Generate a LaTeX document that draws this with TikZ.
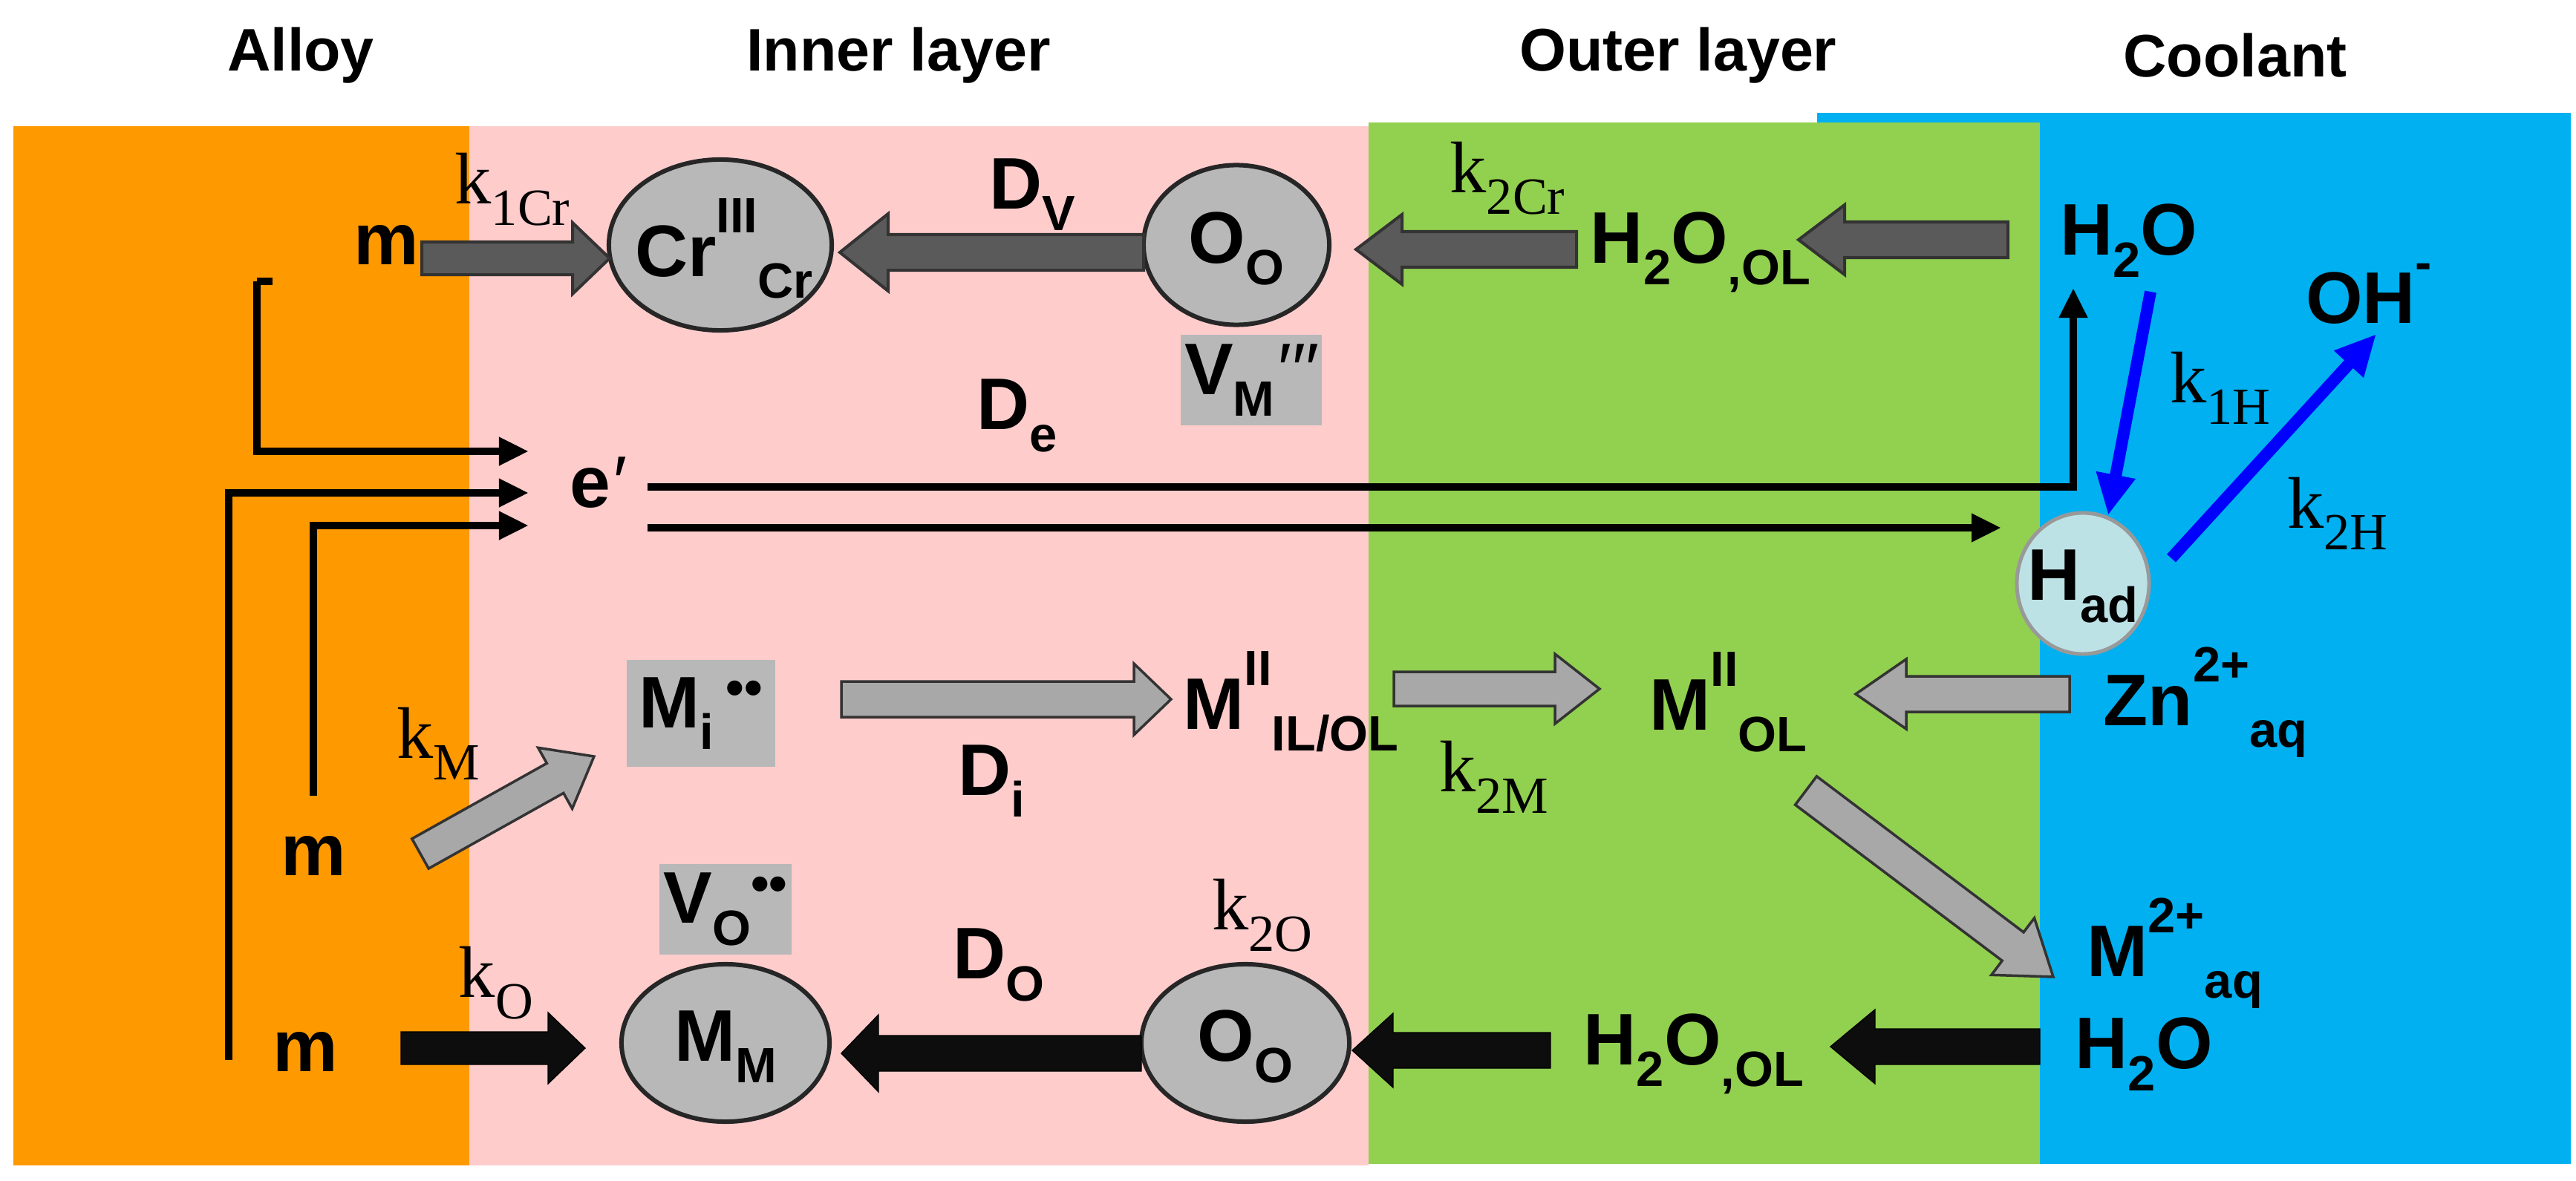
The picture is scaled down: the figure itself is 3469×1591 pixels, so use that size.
\documentclass[tikz,border=0pt]{standalone}
\usepackage{fontspec}
\setmainfont{Liberation Sans}
\newfontfamily\serif{Liberation Serif}
\usetikzlibrary{arrows.meta,shapes.geometric}
\definecolor{orng}{HTML}{FF9900}
\definecolor{pnk}{HTML}{FFCCCC}
\definecolor{grn}{HTML}{92D050}
\definecolor{blu}{HTML}{00B0F0}
\definecolor{elg}{HTML}{B8B8B8}
\definecolor{dkarr}{HTML}{5A5A5A}
\definecolor{ltarr}{HTML}{A8A8A8}
\definecolor{hadc}{HTML}{BDE2E6}
\newcommand\sbs[1]{\raisebox{-0.3em}{\fontsize{19}{19}\selectfont #1}}
\newcommand\sps[1]{\raisebox{0.6em}{\fontsize{19}{19}\selectfont #1}}
\newcommand\ksub[1]{\raisebox{-0.3em}{\fontsize{20}{20}\selectfont #1}}
\newcommand\farr[8]{%
 \pgfmathsetmacro\ang{atan2(-(#4-#2),#3-#1)}%
 \pgfmathsetmacro\len{veclen(#3-#1,#4-#2)}%
 \begin{scope}[shift={(#1,#2)},rotate=\ang]
 \draw[#8] (0,-#5)--(\len-#7,-#5)--(\len-#7,-#6)--(\len,0)--(\len-#7,#6)--(\len-#7,#5)--(0,#5)--cycle;
 \end{scope}}
\tikzset{
 lbl/.style={font=\fontsize{28}{30}\selectfont\bfseries, inner sep=0pt},
 hdr/.style={font=\fontsize{23}{26}\selectfont\bfseries, inner sep=0pt},
 klbl/.style={font=\fontsize{28}{30}\selectfont\serif, inner sep=0pt},
 ell/.style={ellipse, draw=black!85, line width=0.06cm, fill=elg, inner sep=0pt},
 gbox/.style={fill=elg, inner sep=0pt},
 dk/.style={fill=dkarr, draw=black!80, line width=0.04cm},
 lt/.style={fill=ltarr, draw=black!80, line width=0.035cm},
 bk/.style={fill=black!95, draw=black},
 wire/.style={line width=0.1cm, -{Triangle[length=0.4cm,width=0.36cm]}},
 bwire/.style={blue, line width=0.16cm, -{Triangle[length=0.55cm,width=0.5cm]}},
}
\begin{document}
\begin{tikzpicture}[x=0.01cm,y=-0.01cm]
\useasboundingbox (0,0) rectangle (3469,1591);
\fill[white] (0,0) rectangle (3469,1591);
% regions
\fill[blu] (2447,152) rectangle (3462,1568);
\fill[orng] (18,170) rectangle (632,1570);
\fill[pnk] (632,170) rectangle (1843,1570);
\fill[grn] (1843,165) rectangle (2747,1568);
% headers
\node[hdr] (hA) at (405,75) {Alloy};
\node[hdr] (hI) at (1210,75) {Inner layer};
\node[hdr] (hO) at (2260,75) {Outer layer};
\node[hdr] (hC) at (3010,75) {Coolant};
% top row
\node[lbl] (m1) at (520,330) {m};
\node[klbl] (k1cr) at (690,255) {k\ksub{1Cr}};
\node[ell, minimum width=3cm, minimum height=2.3cm] (cr) at (970,330) {};
\farr{568}{348}{821}{348}{22}{48}{50}{dk}
\node[lbl] (crt) at (975,335) {Cr\sps{III}\sbs{Cr}};
\node[ell, minimum width=2.5cm, minimum height=2.15cm] (oo1) at (1665,330) {};
\node[lbl] (oo1t) at (1665,335) {O\sbs{O}};
\farr{1540}{340}{1131}{340}{24}{52}{65}{dk}
\node[lbl] (dv) at (1390,262) {D\sbs{V}};
\node[klbl] (k2cr) at (2030,240) {k\ksub{2Cr}};
\farr{2123}{336}{1826}{336}{24}{47}{62}{dk}
\node[lbl] (h2ool1) at (2290,340) {H\sbs{2}O\sbs{,OL}};
\farr{2704}{323}{2422}{323}{24}{47}{62}{dk}
\node[gbox, minimum width=1.9cm, minimum height=1.21cm] (vm) at (1685,512) {};
\node[lbl] (vmt) at (1685,512) {V\sbs{M}\textit{\fontseries{m}\selectfont\char"2032\char"2032\char"2032}};
\node[lbl] (de) at (1370,560) {D\sbs{e}};
\node[lbl] (e) at (805,650) {e\textit{\fontseries{m}\selectfont\char"2032}};
% coolant top
\node[lbl] (h2o1) at (2867,324) {H\sbs{2}O};
\node[lbl] (oh) at (3190,396) {OH\sps{-}};
\node[ellipse, draw=black!40, line width=0.05cm, fill=hadc, minimum width=1.78cm, minimum height=1.9cm, inner sep=0pt] (had) at (2805,786) {};
\node[lbl] (hadt) at (2805,790) {H\sbs{ad}};
\node[klbl] (k1h) at (2990,523) {k\ksub{1H}};
\node[klbl] (k2h) at (3148,692) {k\ksub{2H}};
\coordinate (b1) at (2896,393);
\coordinate (b2) at (2839,694);
\coordinate (b3) at (2924,752);
\coordinate (b4) at (3200,450);
\draw[bwire] (b1) -- (b2);
\draw[bwire] (b3) -- (b4);
% electron wires
\coordinate (wA) at (367,379);
\coordinate (wAc) at (346,379);
\coordinate (wAd) at (346,608);
\coordinate (eA) at (712,608);
\draw[wire, -] (wA) -- (wAc);
\draw[wire] (wAc) -- (wAd) -- (eA);
\coordinate (wB) at (308,1428);
\coordinate (wBc) at (308,664);
\coordinate (eB) at (712,664);
\draw[wire] (wB) -- (wBc) -- (eB);
\coordinate (wC) at (422,1072);
\coordinate (wCc) at (422,708);
\coordinate (eC) at (712,708);
\draw[wire] (wC) -- (wCc) -- (eC);
\coordinate (l1a) at (872,656);
\coordinate (l1b) at (2792,656);
\coordinate (l1c) at (2792,388);
\draw[wire] (l1a) -- (l1b) -- (l1c);
\coordinate (l2a) at (872,711);
\coordinate (l2b) at (2695,711);
\draw[wire] (l2a) -- (l2b);
% middle row
\node[gbox, minimum width=2cm, minimum height=1.43cm] (mi) at (944,961) {};
\node[lbl] (mit) at (944,961) {M\sbs{i}\,\raisebox{0.3em}{\fontsize{20}{20}\selectfont\char"2022\char"2022}};
\farr{1133}{942}{1577}{942}{24}{48}{50}{lt}
\node[lbl, anchor=west] (mil) at (1593,945) {M\sps{II}\sbs{IL/OL}};
\node[lbl] (di) at (1335,1052) {D\sbs{i}};
\farr{1877}{928}{2154}{928}{23}{47}{60}{lt}
\node[lbl, anchor=west] (mol) at (2221,946) {M\sps{II}\sbs{OL}};
\node[klbl] (k2m) at (2012,1047) {k\ksub{2M}};
\farr{2787}{935}{2499}{935}{24}{47}{68}{lt}
\node[lbl, anchor=west] (zn) at (2832,946) {Zn\sps{2+}\sbs{aq}};
\farr{2432}{1065}{2765}{1316}{24}{48}{68}{lt}
\node[lbl, anchor=west] (m2) at (2810,1284) {M\sps{2+}\sbs{aq}};
\node[klbl] (km) at (590,1002) {k\ksub{M}};
\node[lbl] (m2n) at (422,1153) {m};
\farr{566}{1150}{800}{1019}{23}{47}{60}{lt}
% bottom row
\node[gbox, minimum width=1.78cm, minimum height=1.22cm] (vo) at (977,1225) {};
\node[lbl] (vot) at (977,1225) {V\sbs{O}\raisebox{0.3em}{\fontsize{20}{20}\selectfont\char"2022\char"2022}};
\node[klbl] (ko) at (668,1324) {k\ksub{O}};
\node[lbl] (m3) at (411,1417) {m};
\farr{540}{1412}{788}{1412}{22}{48}{50}{bk}
\node[ell, minimum width=2.8cm, minimum height=2.12cm] (mm) at (977,1405) {};
\node[lbl] (mmt) at (977,1410) {M\sbs{M}};
\node[ell, minimum width=2.8cm, minimum height=2.12cm] (oo2) at (1677,1405) {};
\node[lbl] (oo2t) at (1677,1410) {O\sbs{O}};
\farr{1537}{1419}{1133}{1419}{24}{52}{50}{bk}
\node[lbl] (do) at (1345,1300) {D\sbs{O}};
\node[klbl] (k2o) at (1700,1233) {k\ksub{2O}};
\farr{2088}{1415}{1821}{1415}{24}{50}{55}{bk}
\node[lbl, anchor=west] (h2ool2) at (2132,1420) {H\sbs{2}O\sbs{,OL}};
\farr{2747}{1410}{2465}{1410}{24}{50}{60}{bk}
\node[lbl, anchor=west] (h2o2) at (2794,1420) {H\sbs{2}O};
\end{tikzpicture}
\end{document}
